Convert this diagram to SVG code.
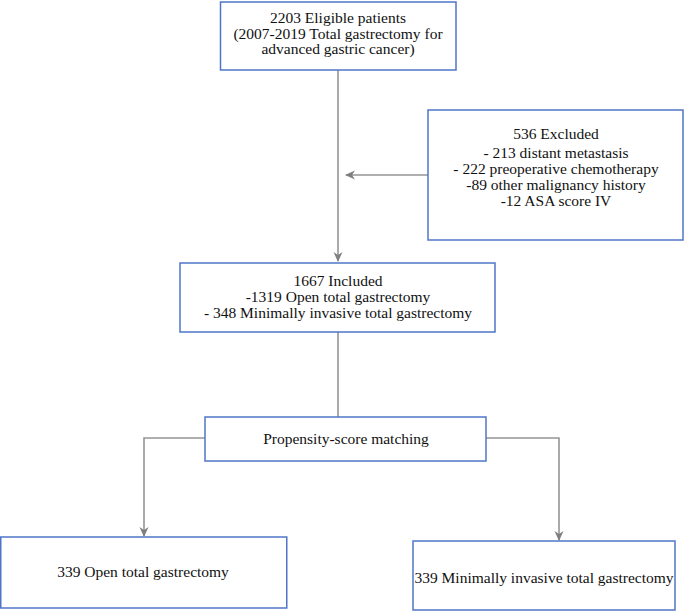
<svg xmlns="http://www.w3.org/2000/svg" width="685" height="612" viewBox="0 0 685 612">
<style>
.box{fill:#fff;stroke:#4f75c9;stroke-width:1.5}
.t{font-family:"Liberation Serif","Times New Roman",serif;font-size:15.5px;fill:#111;text-anchor:middle}
.c{fill:none;stroke:#959595;stroke-width:1.6}
</style>
<defs>
<marker id="ah" markerWidth="10" markerHeight="10" refX="9" refY="5" orient="auto" markerUnits="userSpaceOnUse">
<path d="M0,0.5 L10,5 L0,9.5 L3,5 z" fill="#7f7f7f"/>
</marker>
</defs>
<rect width="685" height="612" fill="#fff"/>
<g id="connectors">
<path class="c" d="M338,70 L338,261" marker-end="url(#ah)"/>
<path class="c" d="M428,175 L346,175" marker-end="url(#ah)"/>
<path class="c" d="M338,332 L338,417"/>
<path class="c" d="M205,438 L144,438 L144,536" marker-end="url(#ah)"/>
<path class="c" d="M486,438 L559,438 L559,540" marker-end="url(#ah)"/>
</g>
<g id="eligible">
<rect class="box" x="220.5" y="2" width="235.5" height="68"/>
<text class="t" x="338" y="23">2203 Eligible patients</text>
<text class="t" x="338" y="38.5">(2007-2019 Total gastrectomy for</text>
<text class="t" x="338" y="54">advanced gastric cancer)</text>
</g>
<g id="excluded">
<rect class="box" x="428" y="110" width="255" height="130"/>
<text class="t" x="556" y="138.5">536 Excluded</text>
<text class="t" x="556" y="158">- 213 distant metastasis</text>
<text class="t" x="556" y="174">- 222 preoperative chemotherapy</text>
<text class="t" x="556" y="190">-89 other malignancy history</text>
<text class="t" x="556" y="205.5">-12 ASA score IV</text>
</g>
<g id="included">
<rect class="box" x="180" y="263" width="315" height="69"/>
<text class="t" x="338" y="286">1667 Included</text>
<text class="t" x="338" y="302">-1319 Open total gastrectomy</text>
<text class="t" x="338" y="318">- 348 Minimally invasive total gastrectomy</text>
</g>
<g id="psm">
<rect class="box" x="205" y="417" width="281" height="44"/>
<text class="t" x="346" y="444">Propensity-score matching</text>
</g>
<g id="open">
<rect class="box" x="0.75" y="537" width="286" height="71"/>
<text class="t" x="143" y="577">339 Open total gastrectomy</text>
</g>
<g id="mis">
<rect class="box" x="413" y="541" width="262" height="69"/>
<text class="t" x="544" y="583">339 Minimally invasive total gastrectomy</text>
</g>
</svg>
